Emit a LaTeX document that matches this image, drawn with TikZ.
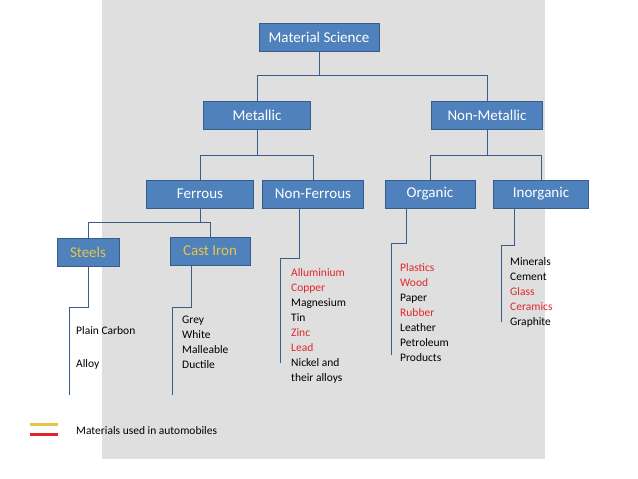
\documentclass[tikz,border=0pt]{standalone}
\usepackage{fontspec}
\setmainfont{Carlito}
\usetikzlibrary{positioning}
\definecolor{boxblue}{HTML}{4F81BD}
\definecolor{boxedge}{HTML}{385D8A}
\definecolor{gold}{HTML}{E8C547}
\definecolor{mred}{HTML}{E0262B}
\tikzset{
  box/.style={draw=boxedge, fill=boxblue, text=white, minimum height=28pt, font=\fontsize{15}{17}\selectfont, inner sep=0pt},
  list/.style={anchor=north west, align=left, font=\fontsize{11.5}{15}\selectfont, inner sep=0pt},
  link/.style={draw=boxedge, line width=0.8pt}
}
\begin{document}
\begin{tikzpicture}[x=1pt,y=-1pt]
  \useasboundingbox (0,0) rectangle (638,479);
  \fill[gray!25] (102,0) rectangle (545,459);
  % boxes
  \node[box, minimum width=120pt] (ms) at (319,37) {Material Science};
  \node[box, minimum width=107pt] (met) at (257,115) {Metallic};
  \node[box, minimum width=111pt] (nmet) at (487,115) {Non-Metallic};
  \node[box, minimum width=107pt] (fer) at (200,194) {Ferrous};
  \node[box, minimum width=101pt] (nfer) at (313,194) {Non-Ferrous};
  \node[box, minimum width=90pt] (org) at (430,194) {Organic};
  \node[box, minimum width=95pt] (inorg) at (541,194) {Inorganic};
  \node[box, minimum width=62pt, text=gold] (steel) at (88,252) {Steels};
  \node[box, minimum width=80pt, text=gold] (cast) at (210,251) {Cast Iron};
  % tree links
  \draw[link] (ms.south) -- ++(0,24) -| (met.north);
  \draw[link] (ms.south) -- ++(0,24) -| (nmet.north);
  \draw[link] (met.south) -- ++(0,26) -| (fer.north);
  \draw[link] (met.south) -- ++(0,26) -| (nfer.north);
  \draw[link] (nmet.south) -- ++(0,26) -| (org.north);
  \draw[link] (nmet.south) -- ++(0,26) -| (inorg.north);
  \draw[link] (fer.south) -- ++(0,14) -| (steel.north);
  \draw[link] (fer.south) -- ++(0,14) -| (cast.north);
  % lists
  \node[list] (steellist) at (76,326) {Plain Carbon\\[18pt]Alloy};
  \node[list] (castlist) at (182,316) {Grey\\White\\Malleable\\Ductile};
  \node[list] (nferlist) at (291,268) {\textcolor{mred}{Alluminium}\\\textcolor{mred}{Copper}\\Magnesium\\Tin\\\textcolor{mred}{Zinc}\\\textcolor{mred}{Lead}\\Nickel and\\their alloys};
  \node[list] (orglist) at (400,263) {\textcolor{mred}{Plastics}\\\textcolor{mred}{Wood}\\Paper\\\textcolor{mred}{Rubber}\\Leather\\Petroleum\\Products};
  \node[list] (inorglist) at (510,257) {Minerals\\Cement\\\textcolor{mred}{Glass}\\\textcolor{mred}{Ceramics}\\Graphite};
  % leaf links
  \coordinate (s1) at (69,395);
  \coordinate (c1) at (172,395);
  \coordinate (n1) at (280,363);
  \coordinate (o1) at (391,355);
  \coordinate (i1) at (501,322);
  \draw[link] (steel.south) -- (88,307) -| (s1);
  \draw[link] (cast.south -| 191,0) -- (191,307) -| (c1);
  \draw[link] (nfer.south -| 299,0) -- (299,258) -| (n1);
  \draw[link] (org.south -| 406,0) -- (406,243) -| (o1);
  \draw[link] (inorg.south -| 514,0) -- (514,245) -| (i1);
  % legend
  \coordinate (ly) at (30,424);
  \coordinate (lr) at (30,434);
  \draw[gold, line width=3pt] (ly) -- ++(28,0);
  \draw[mred, line width=3pt] (lr) -- ++(28,0);
  \node[anchor=west, font=\fontsize{11.5}{13}\selectfont, inner sep=0pt] (leg) at (76,431) {Materials used in automobiles};
\end{tikzpicture}
\end{document}
